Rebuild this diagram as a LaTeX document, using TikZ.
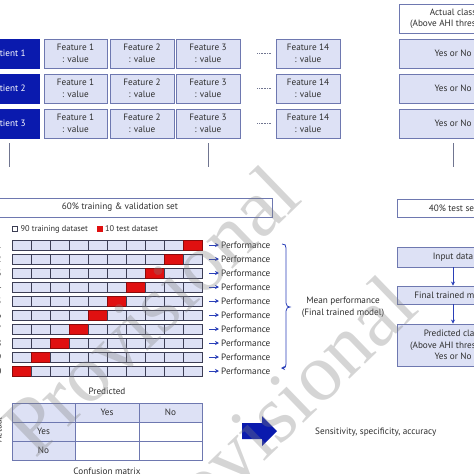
\documentclass[tikz,border=0pt]{standalone}
\usepackage{fontspec}
\setmainfont{PT Sans}
\newfontfamily\wmfont{Liberation Serif}
\usetikzlibrary{shapes.arrows,arrows.meta}
\definecolor{dblue}{HTML}{0A1AAE}
\definecolor{lav}{HTML}{DDE1F5}
\definecolor{bbord}{HTML}{6E78B0}
\definecolor{gridc}{HTML}{3C3E55}
\definecolor{redc}{HTML}{E01010}
\definecolor{redb}{HTML}{8A0A0A}
\definecolor{txt}{HTML}{2E2E2E}
\definecolor{arrc}{HTML}{2A3FB8}
\definecolor{tickc}{HTML}{707590}
\begin{document}
\begin{tikzpicture}[x=1pt,y=-1pt,
  every node/.style={font=\fontsize{9.2}{11.5}\selectfont, text=txt},
  fbox/.style={draw=bbord, fill=lav, line width=0.9pt, align=center, inner sep=0pt,
    minimum width=63pt, minimum height=29pt},
  pbox/.style={fbox, draw=dblue, fill=dblue, text=white},
  wbox/.style={fbox, fill=white},
  cell/.style={draw=gridc, fill=lav, line width=0.7pt, inner sep=0pt,
    minimum width=19pt, minimum height=10pt},
  testcell/.style={draw=redb, fill=redc},
  cmcell/.style={draw=bbord, line width=0.9pt, inner sep=0pt, minimum height=19pt},
  tickline/.style={draw=tickc, line width=0.8pt},
  parr/.style={draw=arrc, line width=0.8pt, -{Stealth[length=4pt,width=4pt]}},
  varr/.style={draw=arrc, line width=0.8pt, -{Stealth[length=4pt,width=4pt]}},
  wm/.style={font=\wmfont\fontsize{82}{82}\selectfont, text=gray, text opacity=0.33}
]
\useasboundingbox (0,0) rectangle (474,474);
\clip (0,0) rectangle (474,474);

% patient rows
\foreach \r/\y in {1/53.5,2/88.5,3/123.5}{
  \node[pbox] (p\r) at (8,\y) {Patient \r};
  \node[fbox] (fa\r) at (75.5,\y) {Feature 1\\: value};
  \node[fbox, minimum width=64pt] (fb\r) at (142,\y) {Feature 2\\: value};
  \node[fbox, minimum width=64pt] (fc\r) at (208,\y) {Feature 3\\: value};
  \node[fbox, minimum width=64pt] (fd\r) at (308,\y) {Feature 14\\: value};
  \draw[draw=tickc, line width=0.6pt, densely dotted, shorten <=17pt, shorten >=5pt] (fc\r.east) -- (fd\r.west);
  \node[fbox, minimum width=108pt] (yn\r) at (453,\y) {Yes or No};
}
\node[wbox, minimum width=108pt] (actual) at (453,18.5) {Actual class\\(Above AHI threshold)};

% ticks
\draw[tickline] (p3.south) ++(1,5) -- ++(0,24);
\draw[tickline] (fc3.south) ++(0,5) -- ++(0,24);
\draw[tickline] (yn3.south) ++(0,5) -- ++(0,24);

% set boxes
\node[wbox, minimum width=304pt, minimum height=19pt] (train) at (120,207.5) {60\% training \& validation set};
\node[wbox, minimum width=112pt, minimum height=18pt] (test) at (453,208) {40\% test set};

% legend
\node[draw=gridc, fill=white, line width=0.7pt, inner sep=0pt, minimum size=5pt] (lsq1) at (14.5,229) {};
\node[anchor=west, inner sep=2pt, font=\fontsize{8.3}{9}\selectfont] (leg1) at (18.5,229) {90 training dataset};
\node[draw=redc, fill=redc, inner sep=0pt, minimum size=5pt] (lsq2) at (99.5,229) {};
\node[anchor=west, inner sep=2pt, font=\fontsize{8.3}{9}\selectfont] (leg2) at (103,229) {10 test dataset};

% cross-validation grid
\foreach \i in {1,...,10}{
  \pgfmathtruncatemacro{\redj}{11-\i}
  \foreach \j in {1,...,10}{
    \ifnum\j=\redj
      \node[cell, testcell] (c-\i-\j) at ({12+19*(\j-0.5)},{245+14*(\i-1)}) {};
    \else
      \node[cell] (c-\i-\j) at ({12+19*(\j-0.5)},{245+14*(\i-1)}) {};
    \fi
  }
  \node[anchor=west, inner sep=2pt] (perf-\i) at (219,{245+14*(\i-1)}) {Performance};
  \draw[parr, shorten <=7pt] (c-\i-10.east) -- (perf-\i.west);
  \node[anchor=east, inner sep=0pt] (lab-\i) at (1.5,{245+14*(\i-1)}) {\i};
}

% brace
\draw[draw=arrc, line width=0.8pt, -{Stealth[length=4pt,width=4pt]}]
  (282,244) .. controls (285,244) and (286,245) .. (286,248) -- (286,303)
  .. controls (286,306) and (288,307) .. (290,307)
  .. controls (288,307) and (286,308) .. (286,311) -- (286,364)
  .. controls (286,367) and (285,368) .. (281,368);
\node[align=center] (mean) at (343,307.5) {Mean performance\\(Final trained model)};

% right column
\node[fbox, minimum width=112pt, minimum height=20pt] (inp) at (453,257) {Input data};
\node[fbox, minimum width=112pt, minimum height=18pt] (fin) at (453,295) {Final trained model};
\node[fbox, minimum width=112pt, minimum height=42pt] (pred) at (453,345) {Predicted class\\(Above AHI threshold)\\Yes or No};
\draw[varr] (inp) -- (fin);
\draw[varr] (fin) -- (pred);

% confusion matrix
\node (predl) at (107,391) {Predicted};
\node[cmcell, fill=lav, minimum width=63pt] (cm00) at (43.5,412.5) {};
\node[cmcell, fill=lav, minimum width=64pt] (cm01) at (107,412.5) {Yes};
\node[cmcell, fill=lav, minimum width=63pt] (cm02) at (170.5,412.5) {No};
\node[cmcell, fill=lav, minimum width=63pt] (cm10) at (43.5,431.5) {Yes};
\node[cmcell, fill=white, minimum width=64pt] (cm11) at (107,431.5) {};
\node[cmcell, fill=white, minimum width=63pt] (cm12) at (170.5,431.5) {};
\node[cmcell, fill=lav, minimum width=63pt] (cm20) at (43.5,450.5) {No};
\node[cmcell, fill=white, minimum width=64pt] (cm21) at (107,450.5) {};
\node[cmcell, fill=white, minimum width=63pt] (cm22) at (170.5,450.5) {};
\node[rotate=90] (actl) at (-1.5,430) {Actual};
\node (cml) at (107,471) {Confusion matrix};

% big arrow and result
\fill[dblue] (242,423) -- (262,423) -- (262,416) -- (277,431) -- (262,446) -- (262,439) -- (242,439) -- cycle;
\node[anchor=west, inner sep=2pt] (sens) at (313,432) {Sensitivity, specificity, accuracy};

% watermark
\node[wm, rotate=44] (wm1) at (150,310) {Provisional};
\node[wm, rotate=44] (wm2) at (267,420) {Provisional};
\end{tikzpicture}
\end{document}
